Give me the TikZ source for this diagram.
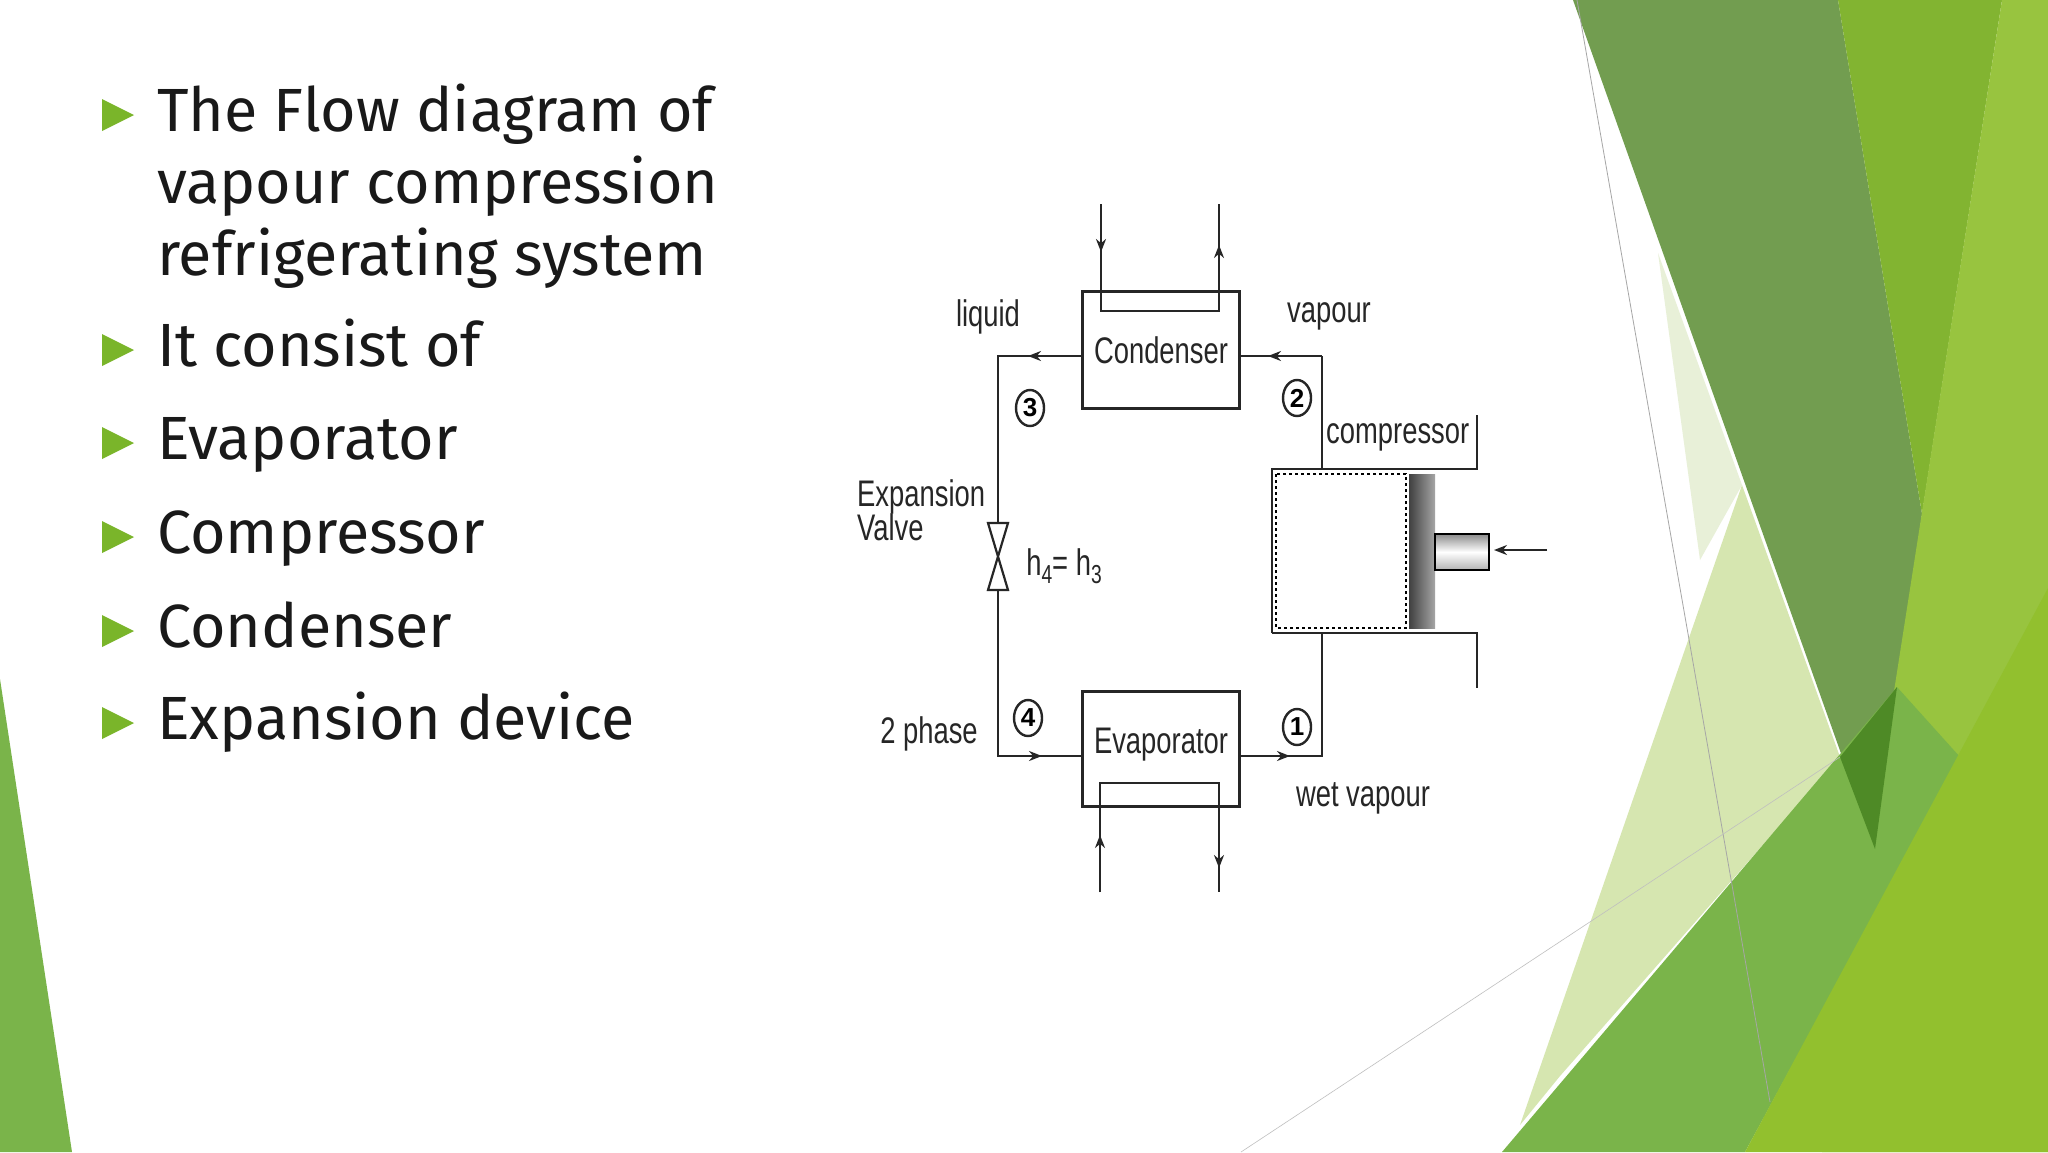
\documentclass[tikz,border=0pt]{standalone}
\usepackage{fontspec}
\setmainfont{Liberation Sans}
\newfontfamily\bulletfont{Fira Sans}
\usetikzlibrary{arrows.meta,shapes.geometric}
\definecolor{gdark}{HTML}{729D50}
\definecolor{gbright}{HTML}{82B431}
\definecolor{glight}{HTML}{98C43F}
\definecolor{gyel}{HTML}{92C02E}
\definecolor{gband}{HTML}{7AB44A}
\definecolor{gpale}{HTML}{D6E6B0}
\definecolor{gpale2}{HTML}{E8F0D8}
\definecolor{gdeep}{HTML}{4E8A26}
\definecolor{bul}{HTML}{7AB52A}
\newcommand{\nl}[1]{\scalebox{0.74}[1]{#1}}
\tikzset{
  pipe/.style={line width=2.8pt,black!85},
  box/.style={draw=black!85,line width=2.8pt},
  lbl/.style={font=\fontsize{37}{38}\selectfont,inner sep=0pt,text=black!85},
  num/.style={draw=black!85,line width=2.4pt,ellipse,minimum width=28pt,minimum height=36pt,inner sep=0pt,font=\bfseries\fontsize{26}{26}\selectfont},
  arr/.style={pipe,-{Stealth[length=13pt,width=10pt]}},
  btxt/.style={font=\bulletfont\fontsize{61}{70}\selectfont,anchor=base west,inner sep=0pt,align=left,text=black!90},
  btri/.style={fill=bul}
}
\begin{document}
\begin{tikzpicture}[x=1pt,y=-1pt]
\useasboundingbox (0,0) rectangle (2048,1152);
\fill[white] (0,0) rectangle (2048,1152);
% background facets
\fill[gband] (0,679) -- (72,1152) -- (0,1152) -- cycle;
\fill[gpale2] (1658,253) -- (1742,485) -- (1700,560) -- cycle;
\fill[gpale] (1742,485) -- (1840,757) -- (1560,1076) -- (1520,1125) -- cycle;
\fill[gdark] (1573,0) -- (1838,0) -- (1922,514) -- (1875,849) -- cycle;
\fill[gbright] (1838,0) -- (2002,0) -- (1922,514) -- cycle;
\fill[glight] (2002,0) -- (2048,0) -- (2048,1152) -- (1822,1152) -- cycle;
\fill[gband] (1502,1152) -- (1897,687) -- (1960,757) -- (1745,1152) -- cycle;
\fill[gyel] (1745,1152) -- (2048,588) -- (2048,1152) -- cycle;
\fill[gdeep] (1840,757) -- (1897,687) -- (1875,849) -- cycle;
\draw[gray!70,line width=0.8pt] (1577,0) -- (1770,1102);
\draw[gray!50,line width=0.6pt] (1241,1152) -- (1840,757);
% bullets
\foreach \y in {131,366,459,553,647,739}
  \fill[btri] (102,\y-32) -- (134,\y-16) -- (102,\y) -- cycle;
\node[btxt] (t1) at (157,131) {The Flow diagram of};
\node[btxt] (t2) at (157,203) {vapour compression};
\node[btxt] (t3) at (157,275) {refrigerating system};
\node[btxt] (t4) at (157,366) {It consist of};
\node[btxt] (t5) at (157,459) {Evaporator};
\node[btxt] (t6) at (157,553) {Compressor};
\node[btxt] (t7) at (157,647) {Condenser};
\node[btxt] (t8) at (157,739) {Expansion device};
% condenser
\node[box,minimum width=157pt,minimum height=117pt,anchor=north west] (cond) at (1081,290) {};
\node[lbl] (condt) at (1161,350) {\nl{Condenser}};
\draw[arr] (1101,204) -- (1101,252);
\draw[pipe] (1101,245) -- (1101,311) -- (1219,311) -- (1219,204);
\draw[arr] (1219,280) -- (1219,245);
% evaporator
\node[box,minimum width=157pt,minimum height=115pt,anchor=north west] (evap) at (1081,690) {};
\node[lbl] (evapt) at (1161,745) {\nl{Evaporator}};
\draw[pipe] (1100,892) -- (1100,783) -- (1219,783) -- (1219,892);
\draw[arr] (1100,892) -- (1100,835);
\draw[arr] (1219,820) -- (1219,868);
% loop
\coordinate (cl) at (998,356);
\coordinate (cr) at (1322,356);
\coordinate (el) at (998,756);
\coordinate (er) at (1322,756);
\coordinate (vt) at (998,523);
\coordinate (vb) at (998,590);
\draw[pipe] (cond.west |- cl) -- (cl) -- (vt);
\draw[arr] (cond.west |- cl) -- (1028,356);
\draw[pipe] (vb) -- (el) -- (evap.west |- el);
\draw[arr] (el) -- (1042,756);
\draw[pipe] (cr) -- (cond.east |- cr);
\draw[arr] (cr) -- (1268,356);
\draw[pipe] (evap.east |- er) -- (er) -- (1322,633);
\draw[arr] (evap.east |- er) -- (1290,756);
\draw[pipe] (cr) -- (1322,469);
% valve
\draw[pipe,line width=2.2pt,fill=white] (vt) -- (1008,523) -- (988,590) -- (1008,590) -- (988,523) -- cycle;
% compressor
\draw[pipe] (1272,633) -- (1272,469) -- (1477,469) -- (1477,415);
\draw[pipe] (1272,633) -- (1477,633) -- (1477,688);
\draw[dashed,line width=1.2pt] (1276,474) rectangle (1406,628);
\shade[left color=black!75,right color=black!35,middle color=black!55] (1409,474) rectangle (1435,628);
\shade[top color=black!45,bottom color=black!30,middle color=white] (1435,534) rectangle (1489,570);
\draw[line width=1.2pt] (1435,534) rectangle (1489,570);
\coordinate (pin) at (1547,550);
\draw[arr] (pin) -- (1494,550);
% labels
\node[lbl] (lq) at (988,317) {\nl{liquid}};
\node[lbl] (vp) at (1329,316) {\nl{vapour}};
\node[lbl,anchor=west] (cp) at (1326,437) {\nl{compressor}};
\node[lbl,anchor=west,align=left] (ev) at (857,510) {\nl{Expansion}\\[-4pt]\nl{Valve}};
\node[lbl] (hh) at (1064,566) {\nl{h\raisebox{-8pt}{\fontsize{26}{26}\selectfont 4}= h\raisebox{-8pt}{\fontsize{26}{26}\selectfont 3}}};
\node[lbl] (tp) at (929,734) {\nl{2 phase}};
\node[lbl] (wv) at (1363,798) {\nl{wet vapour}};
\node[num] (n3) at (1030,408) {3};
\node[num] (n2) at (1297,398) {2};
\node[num] (n4) at (1028,718) {4};
\node[num] (n1) at (1297,727) {1};
\end{tikzpicture}
\end{document}
